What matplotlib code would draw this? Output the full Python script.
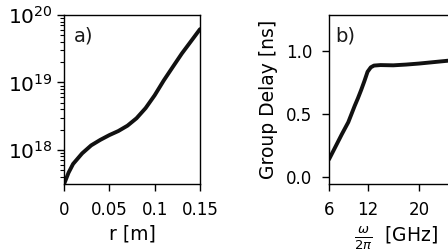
# density profile and group delay, two panels
import matplotlib
matplotlib.use('Agg')
import matplotlib.pyplot as plt
import numpy as np

# panel a) density vs radius
r_m = [0, 0.005, 0.01, 0.02, 0.03, 0.04, 0.05, 0.06, 0.07, 0.08,
       0.09, 0.10, 0.11, 0.12, 0.13, 0.14, 0.15]
density = [3.1e17, 4.6e17, 6.2e17, 8.9e17, 1.17e18, 1.41e18, 1.66e18,
           1.91e18, 2.29e18, 2.95e18, 4.17e18, 6.46e18, 1.07e19, 1.70e19,
           2.69e19, 4.07e19, 6.17e19]

# panel b) group delay vs frequency
freq_ghz = [6, 7, 8, 9, 9.5, 10, 10.5, 11, 11.5, 12, 12.5, 13, 14, 16,
            18, 20, 22, 24, 26, 27]
group_delay = [0.14, 0.24, 0.34, 0.435, 0.50, 0.565, 0.625, 0.69, 0.76,
               0.835, 0.87, 0.884, 0.888, 0.886, 0.892, 0.900, 0.91, 0.92,
               0.93, 0.935]

plt.rcParams['font.size'] = 12
plt.rcParams['axes.labelsize'] = 13.5
plt.rcParams['axes.linewidth'] = 1.0
plt.rcParams['text.color'] = '#1a1a1a'
for ax_ in ['xtick', 'ytick']:
    plt.rcParams[ax_ + '.major.size'] = 5
    plt.rcParams[ax_ + '.minor.size'] = 3
    plt.rcParams[ax_ + '.major.width'] = 1.0
    plt.rcParams[ax_ + '.minor.width'] = 0.8
    plt.rcParams[ax_ + '.major.pad'] = 7

W, H = 448, 252
fig = plt.figure(figsize=(W/100., H/100.), dpi=100)

def pos(x0, y0, x1, y1):
    return [x0/W, 1 - y1/H, (x1-x0)/W, (y1-y0)/H]

ax1 = fig.add_axes(pos(64, 15, 200, 184))
ax1.plot(r_m, density, color='#111111', lw=2.8, solid_capstyle='round')
ax1.set_yscale('log')
ax1.set_ylim(3.13e17, 1e20)
ax1.set_xlim(0, 0.15)
ax1.set_xticks([0, 0.05, 0.1, 0.15])
ax1.set_xticklabels(['0', '0.05', '0.1', '0.15'])
ax1.tick_params(axis='y', which='major', labelsize=14.5, pad=3)
ax1.set_xlabel('r [m]')
ax1.text(0.07, 0.93, 'a)', transform=ax1.transAxes, va='top', ha='left',
         fontsize=14)

ax2 = fig.add_axes(pos(329, 15, 464, 184))
ax2.plot(freq_ghz, group_delay, color='#111111', lw=2.8, solid_capstyle='round')
ax2.set_xlim(6, 27)
ax2.set_ylim(-0.055, 1.285)
ax2.set_xticks([6, 12, 20])
ax2.set_yticks([0.0, 0.5, 1.0])
ax2.set_xlabel(r'$\frac{\omega}{2\pi}$  [GHz]')
ax2.set_ylabel('Group Delay [ns]', labelpad=6)
ax2.text(6.7/135., 0.93, 'b)', transform=ax2.transAxes, va='top', ha='left',
         fontsize=14)

fig.savefig('out.png', dpi=100)
